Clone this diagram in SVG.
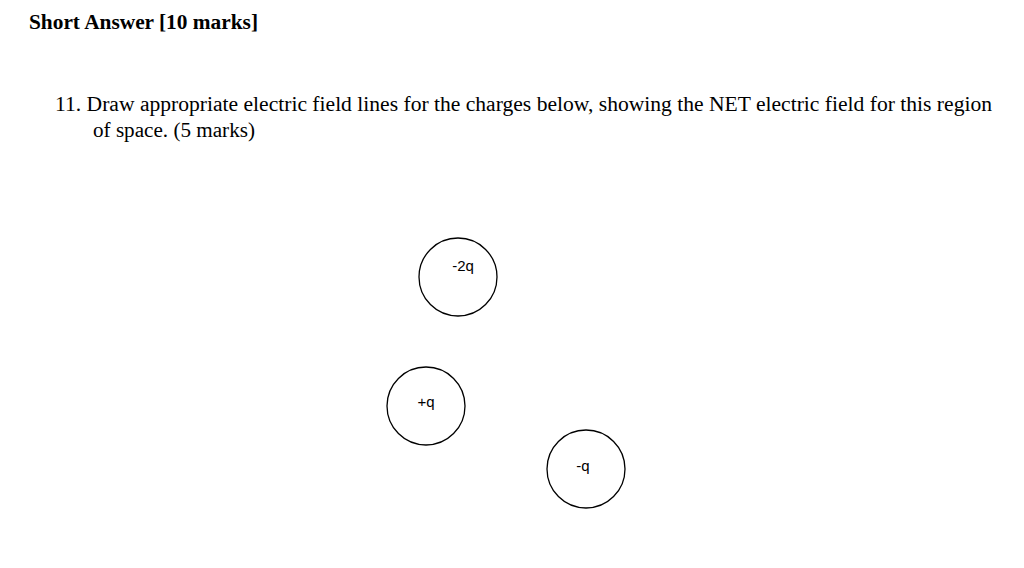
<svg xmlns="http://www.w3.org/2000/svg" width="1024" height="568" viewBox="0 0 1024 568">
<style>
.t{font-family:"Liberation Serif",serif;font-size:20px;fill:#000}
.c{fill:#fff;stroke:#000;stroke-width:1.3}
.l{font-family:"Liberation Sans",sans-serif;font-size:15px;fill:#000;text-anchor:middle}
</style>
<rect width="1024" height="568" fill="#fff"/>
<text class="t" x="29" y="29" font-weight="bold" textLength="229" lengthAdjust="spacingAndGlyphs">Short Answer [10 marks]</text>
<text class="t" x="55" y="111" textLength="937" lengthAdjust="spacingAndGlyphs">11. Draw appropriate electric field lines for the charges below, showing the NET electric field for this region</text>
<text class="t" x="93" y="137" textLength="162" lengthAdjust="spacingAndGlyphs">of space. (5 marks)</text>
<g id="n1"><circle class="c" cx="458" cy="277" r="39"/><text class="l" x="463" y="271">-2q</text></g>
<g id="n2"><circle class="c" cx="426" cy="406" r="39"/><text class="l" x="426" y="407">+q</text></g>
<g id="n3"><circle class="c" cx="586" cy="469" r="39"/><text class="l" x="583" y="471">-q</text></g>
<g id="connectors"/>
</svg>
